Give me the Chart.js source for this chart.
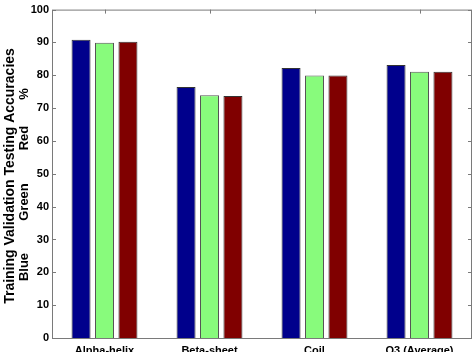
<!DOCTYPE html>
<html>
<head>
<meta charset="utf-8">
<script src="https://cdn.jsdelivr.net/npm/chart.js@4"></script>
<style>
  html, body { margin: 0; padding: 0; overflow: hidden; background: #fff; }
  #wrap { width: 474px; height: 362px; }
</style>
</head>
<body>
<div id="wrap"><canvas id="bars" width="474" height="362"></canvas></div>
<script>
var categories = ['Alpha-helix', 'Beta-sheet', 'Coil', 'Q3 (Average)'];
var training = [90.8, 76.4, 82.2, 83.1];
var validation = [89.9, 73.9, 79.9, 81.1];
var testing = [90.2, 73.7, 79.9, 81.1];
var yTicks = [0, 10, 20, 30, 40, 50, 60, 70, 80, 90, 100];

var labelTop = 'Training Validation Testing Accuracies';
var labelBottom = ['Blue', 'Green', 'Red', '%'];

var fontName = "'Liberation Sans', Arial, sans-serif";

// box around the plot, inward ticks and the two-line y label
var frame = {
  id: 'frame',
  afterDraw: function (chart) {
    var c = chart.ctx, a = chart.chartArea;
    var xs = chart.scales.x, ys = chart.scales.y;
    c.save();
    c.strokeStyle = '#7a7a7a';
    c.lineWidth = 1;
    c.strokeRect(a.left + 0.5, a.top + 0.5, a.right - a.left - 1, a.bottom - a.top);
    c.beginPath();
    yTicks.forEach(function (v) {
      var y = Math.round(ys.getPixelForValue(v)) + 0.5;
      c.moveTo(a.left, y); c.lineTo(a.left + 4, y);
      c.moveTo(a.right, y); c.lineTo(a.right - 4, y);
    });
    categories.forEach(function (cat, i) {
      var x = Math.round(xs.getPixelForValue(i)) + 0.5;
      c.moveTo(x, a.top); c.lineTo(x, a.top + 4);
    });
    c.stroke();

    c.fillStyle = '#000';
    c.textAlign = 'center';
    c.textBaseline = 'alphabetic';
    c.save();
    c.translate(14, 176);
    c.rotate(-Math.PI / 2);
    c.font = 'bold 14px ' + fontName;
    c.fillText(labelTop, 0, 0);
    c.restore();
    var botPos = [267, 202, 138, 94];
    labelBottom.forEach(function (w, i) {
      c.save();
      c.translate(28, botPos[i]);
      c.rotate(-Math.PI / 2);
      c.font = 'bold 13px ' + fontName;
      c.fillText(w, 0, 0);
      c.restore();
    });
    c.restore();
  }
};

var ctx = document.getElementById('bars');

var myChart = new Chart(ctx, {
  type: 'bar',
  data: {
    labels: categories,
    datasets: [{
      label: 'Training',
      data: training,
      backgroundColor: '#00008c',
      borderColor: '#333',
      borderWidth: 1
    }, {
      label: 'Validation',
      data: validation,
      backgroundColor: '#88fb7c',
      borderColor: '#555',
      borderWidth: 1
    }, {
      label: 'Testing',
      data: testing,
      backgroundColor: '#800000',
      borderColor: '#333',
      borderWidth: 1
    }]
  },
  options: {
    responsive: false,
    animation: false,
    layout: { padding: { left: 0, top: 4, right: 2, bottom: 0 } },
    datasets: { bar: { categoryPercentage: 0.67, barPercentage: 0.81 } },
    plugins: { legend: { display: false }, tooltip: { enabled: false } },
    scales: {
      x: {
        grid: { display: false, drawTicks: false },
        border: { display: false },
        ticks: { color: '#000', padding: 6, font: { family: fontName, size: 11, weight: 'bold' } },
        afterFit: function (s) { s.height = 24; }
      },
      y: {
        min: 0,
        max: 100,
        grid: { display: false, drawTicks: false },
        border: { display: false },
        ticks: { stepSize: 10, color: '#000', padding: 3, font: { family: fontName, size: 11, weight: 'bold' } },
        afterFit: function (s) { s.width = 52; }
      }
    }
  },
  plugins: [frame]
});
</script>
</body>
</html>
